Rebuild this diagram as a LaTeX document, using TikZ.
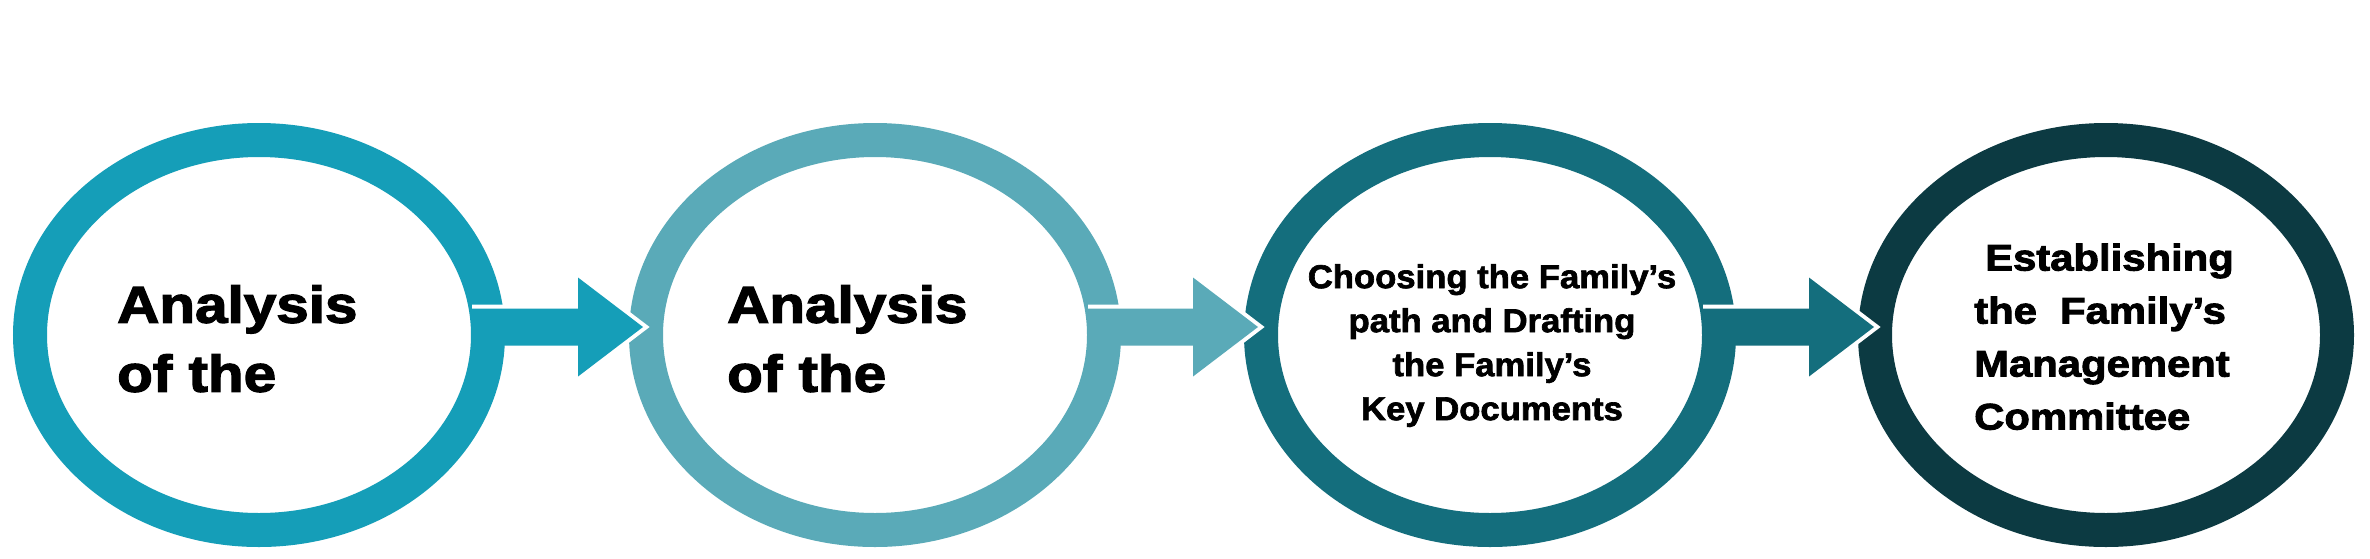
\documentclass[tikz,border=0pt]{standalone}
\usepackage{fontspec}
\usetikzlibrary{shapes.geometric,calc}
\newfontfamily\wideB{Liberation Sans Bold}[FakeStretch=1.13, FakeBold=2.5]
\newfontfamily\midB{Liberation Sans Bold}[FakeStretch=1.05, FakeBold=2]
\definecolor{cA}{RGB}{21,158,184}
\definecolor{cB}{RGB}{90,170,184}
\definecolor{cC}{RGB}{20,110,125}
\definecolor{cD}{RGB}{12,58,66}
\tikzset{
  ring/.style={ellipse, draw=#1, line width=34pt, fill=white,
    minimum width=458pt, minimum height=390pt, inner sep=0pt},
  bigtext/.style={font={\wideB\fontsize{51.7}{69}\selectfont}, align=left, inner sep=0pt, anchor=north west},
  midtext/.style={font={\midB\fontsize{33}{44}\selectfont}, align=center, inner sep=0pt, anchor=north},
  lasttext/.style={font={\wideB\fontsize{37}{53}\selectfont}, align=left, inner sep=0pt, anchor=north west}
}
\newcommand\flowarrow[3]{%
  \coordinate (#1s) at ($(#1.center)+(213,-8)$);
  \coordinate (#1t) at ($(#2.center)+(-232,-8)$);
  \draw[white, line width=8pt, line join=miter]
    ($(#1s)+(0,-18.5)$) -- ($(#1t)+(-65,-18.5)$) -- ($(#1t)+(-65,-49.5)$)
    -- (#1t) -- ($(#1t)+(-65,49.5)$);
  \fill[#3] ($(#1s)+(0,-18.5)$) -- ($(#1t)+(-65,-18.5)$) -- ($(#1t)+(-65,-49.5)$)
    -- (#1t) -- ($(#1t)+(-65,49.5)$) -- ($(#1t)+(-65,18.5)$) -- ($(#1s)+(0,18.5)$) -- cycle;
}
\begin{document}
\begin{tikzpicture}[x=1pt,y=-1pt]
\useasboundingbox[fill=white] (0,0) rectangle (2370,558);
\node[ring=cA] (c1) at (259,335) {};
\node[ring=cB] (c2) at (875,335) {};
\node[ring=cC] (c3) at (1490,335) {};
\node[ring=cD, minimum width=462pt] (c4) at (2106,335) {};
\flowarrow{c1}{c2}{cA}
\flowarrow{c2}{c3}{cB}
\flowarrow{c3}{c4}{cC}
\node[bigtext] (t1) at (117,285) {Analysis\\of the};
\node[bigtext] (t2) at (727,285) {Analysis\\of the};
\node[midtext] (t3) at (1492,264) {Choosing the Family’s\\path and Drafting\\the Family’s\\Key Documents};
\node[lasttext] (t4) at (1974,243.5) {\hspace*{11pt}Establishing\\the\ \ Family’s\\Management\\Committee};
\end{tikzpicture}
\end{document}
